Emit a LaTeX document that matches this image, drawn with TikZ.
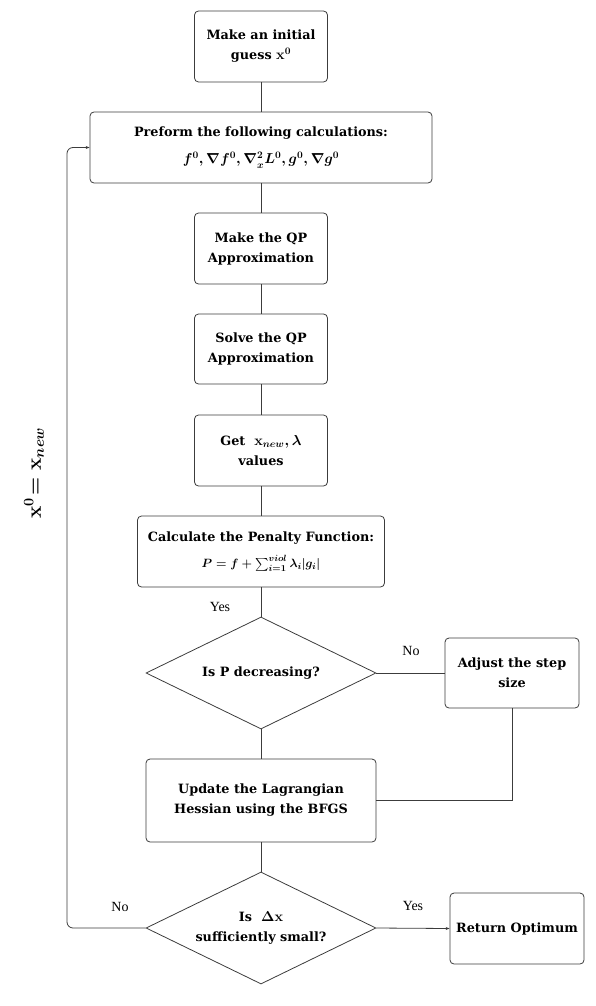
\documentclass[tikz,border=0pt]{standalone}
\usepackage{amsmath}
\usepackage{amssymb}
\usepackage{fontspec}
\setmainfont{DejaVu Serif}
\newfontfamily\labelfont{Liberation Serif}
\usetikzlibrary{shapes.geometric,arrows.meta}
\definecolor{linegray}{HTML}{3C3C3C}
\newcommand{\bigmath}[1]{{\fontsize{14.5}{20}\selectfont$#1$}}

\begin{document}
\begin{tikzpicture}[x=1pt,y=-1pt,
  box/.style={draw=linegray,line width=0.8pt,rounded corners=4pt,fill=white,
    align=center,inner sep=0pt,font=\bfseries\fontsize{12.8}{20}\selectfont},
  decision/.style={draw=linegray,line width=0.8pt,diamond,aspect=2.05,align=center,
    inner sep=0pt,minimum width=230,minimum height=112,
    font=\bfseries\fontsize{12.8}{20}\selectfont},
  link/.style={draw=linegray,line width=0.8pt},
  arr/.style={link,-{Stealth[length=4pt,width=3pt]}},
  lbl/.style={font=\labelfont\fontsize{14}{16}\selectfont}]
\useasboundingbox (0,0) rectangle (596,1006);
\boldmath
% main column
\node[box,minimum width=133,minimum height=71] (init) at (261,46.5)
  {Make an initial\\guess \bigmath{\mathbf{x^0}}};
\node[box,minimum width=342,minimum height=71] (calc) at (261,147.5)
  {Preform the following calculations:\\[7pt]
   \bigmath{f^0, \nabla f^0, \nabla_x^2 L^0, g^0, \nabla g^0}};
\node[box,minimum width=133,minimum height=71] (qp) at (261,248.5)
  {Make the QP\\Approximation};
\node[box,minimum width=133,minimum height=70] (solve) at (261,349)
  {Solve the QP\\Approximation};
\node[box,minimum width=133,minimum height=71] (getx) at (261,450.5)
  {Get \ \bigmath{\mathbf{x}_{new}, \lambda}\\values};
\node[box,minimum width=247,minimum height=71] (pen) at (261,551.5)
  {Calculate the Penalty Function:\\[6pt]
   $P = f + \sum_{i=1}^{viol} \lambda_i |g_i|$};
\node[decision] (dec) at (261,673) {Is P decreasing?};
\node[box,minimum width=134,minimum height=70] (adj) at (512,673)
  {Adjust the step\\size};
\node[box,minimum width=230,minimum height=83] (upd) at (261,800.5)
  {Update the Lagrangian\\Hessian using the BFGS};
\node[decision] (conv) at (261,928)
  {Is \ \bigmath{\Delta\mathbf{x}}\\sufficiently small?};
\node[box,minimum width=134,minimum height=71] (opt) at (517,928.5)
  {Return Optimum};
\coordinate (back) at (67,147.5);
% connectors
\draw[link] (init) -- (calc);
\draw[link] (calc) -- (qp);
\draw[link] (qp) -- (solve);
\draw[link] (solve) -- (getx);
\draw[link] (getx) -- (pen);
\draw[link] (pen) -- (dec);
\draw[link] (dec) -- (upd);
\draw[link] (dec.east) -- (adj.west);
\draw[link] (adj.south) |- (upd.east);
\draw[link] (upd) -- (conv);
\draw[arr] (conv.east) -- (opt.west);
\draw[arr,rounded corners=6pt] (conv.west) -| (back) -- (calc.west);
% labels
\node[lbl] (yes1) at (220,607) {Yes};
\node[lbl] (no1) at (411,651) {No};
\node[lbl] (no2) at (120,907) {No};
\node[lbl] (yes2) at (413,906) {Yes};
\node[rotate=90,font=\fontsize{19.5}{22}\selectfont] (upd0) at (34,473)
  {$\mathbf{x^0}\!= \mathbf{x}_{new}$};
\end{tikzpicture}
\end{document}
